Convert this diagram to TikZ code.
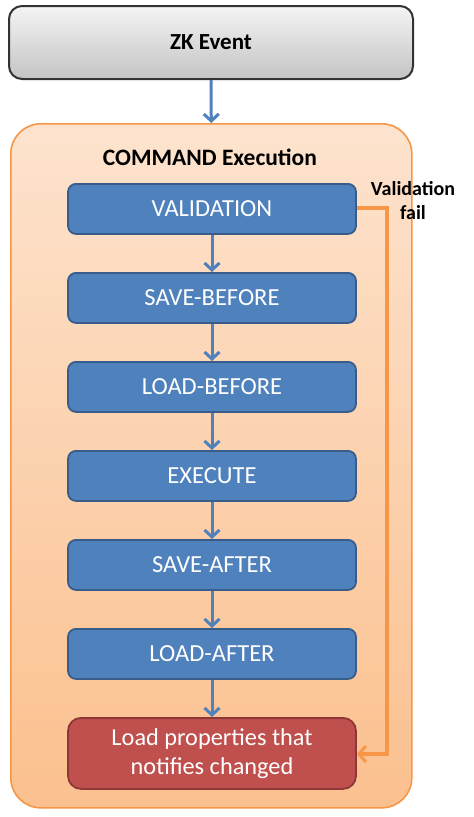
\documentclass[tikz,border=0pt]{standalone}
\usepackage{fontspec}
\setmainfont{Carlito}
\usetikzlibrary{arrows.meta,positioning}
\definecolor{stepblue}{HTML}{4F81BD}
\definecolor{stepblueline}{HTML}{385D8A}
\definecolor{endred}{HTML}{C0504D}
\definecolor{endredline}{HTML}{8C3836}
\definecolor{orangeline}{HTML}{F79646}
\definecolor{orangelight}{HTML}{FDE3CE}
\definecolor{orangedark}{HTML}{FBC08E}
\definecolor{graylight}{HTML}{F4F4F4}
\definecolor{graydark}{HTML}{C4C4C4}
\tikzset{
  stepbox/.style={draw=stepblueline, line width=1.8pt, fill=stepblue, rounded corners=8pt,
    minimum width=288pt, minimum height=50pt, text=white, font=\fontsize{24.5}{28}\selectfont,
    inner sep=0pt, anchor=north},
  endbox/.style={draw=endredline, line width=1.8pt, fill=endred, rounded corners=13pt,
    minimum width=288pt, minimum height=71pt, text=white, font=\fontsize{24.3}{29}\selectfont,
    inner sep=0pt, anchor=north, align=center},
  flow/.style={draw=stepblue, line width=3pt, -{Straight Barb[length=7pt,width=15pt,line width=3pt]}},
  failflow/.style={draw=orangeline, line width=3.4pt, -{Straight Barb[length=7pt,width=16pt,line width=3pt]}},
}
\begin{document}
\begin{tikzpicture}[x=1pt,y=-1pt]
\useasboundingbox (0,0) rectangle (474,817);
\fill[white] (0,0) rectangle (474,817);
% ZK event
\node[draw=black!80, line width=2pt, rounded corners=13pt, top color=graylight, bottom color=graydark,
  minimum width=404pt, minimum height=73pt, anchor=north west, inner sep=0pt,
  font=\bfseries\fontsize{23}{27}\selectfont] (zk) at (8,5) {ZK Event};
% container
\node[draw=orangeline, line width=1.6pt, rounded corners=30pt, top color=orangelight, bottom color=orangedark,
  minimum width=401pt, minimum height=684pt, anchor=north west, inner sep=0pt] (cmd) at (10,123) {};
\node[font=\bfseries\fontsize{23.5}{27}\selectfont, anchor=center] (cmdtitle) at (210,157) {COMMAND Execution};
% steps
\node[stepbox] (val) at (212,183) {VALIDATION};
\node[stepbox] (sb) at (212,272) {SAVE-BEFORE};
\node[stepbox] (lb) at (212,361) {LOAD-BEFORE};
\node[stepbox] (ex) at (212,450) {EXECUTE};
\node[stepbox] (sa) at (212,539) {SAVE-AFTER};
\node[stepbox] (la) at (212,628) {LOAD-AFTER};
\node[endbox] (lp) at (212,717) {Load properties that\\notifies changed};
% arrows
\draw[flow] (zk.south) -- (cmd.north);
\draw[flow] (val.south) -- (sb.north);
\draw[flow] (sb.south) -- (lb.north);
\draw[flow] (lb.south) -- (ex.north);
\draw[flow] (ex.south) -- (sa.north);
\draw[flow] (sa.south) -- (la.north);
\draw[flow] (la.south) -- (lp.north);
% validation fail
\coordinate (ftop) at (387,208);
\coordinate (fbot) at (387,754);
\draw[failflow] (val.east |- ftop) -- (ftop) -- (fbot) -- (fbot -| lp.east);
\node[font=\bfseries\fontsize{20}{24}\selectfont, align=center, anchor=center] (faillabel) at (413,201) {Validation\\fail};
\end{tikzpicture}
\end{document}
